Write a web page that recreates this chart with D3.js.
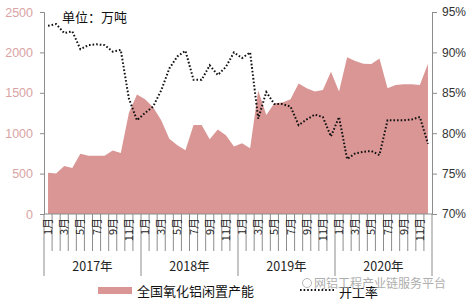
<!DOCTYPE html>
<html>
<head>
<meta charset="utf-8">
<script src="https://cdn.jsdelivr.net/npm/d3@7"></script>
<style>
  body { margin: 0; background: #fff; }
  svg { display: block; font-family: "Liberation Sans", Arial, "Noto Sans CJK SC", sans-serif; }
  .cjk { font-family: "Noto Sans CJK SC", sans-serif; }
</style>
</head>
<body>
<svg id="chart" width="468" height="305"></svg>
<script>
const years = ["2017年", "2018年", "2019年", "2020年"];
const monthLabels = ["1月", "", "3月", "", "5月", "", "7月", "", "9月", "", "11月", ""];
// 全国氧化铝闲置产能（万吨）
const idleCapacity = [
  510, 500, 595, 570, 745, 720, 720, 720, 785, 755, 1250, 1480,
  1420, 1320, 1160, 930, 850, 790, 1100, 1100, 925, 1045, 975, 835,
  875, 815, 1530, 1225, 1370, 1380, 1420, 1615, 1555, 1515, 1535, 1760,
  1515, 1940, 1895, 1860, 1855, 1925, 1555, 1595, 1605, 1605, 1595, 1860
];
// 开工率（%）
const operatingRate = [
  93.3, 93.5, 92.4, 92.6, 90.4, 90.9, 91.0, 90.9, 90.1, 90.3, 84.3, 81.6,
  82.5, 83.3, 85.3, 88.0, 89.5, 90.2, 86.6, 86.6, 88.4, 87.2, 88.2, 90.0,
  89.3, 90.0, 81.8, 85.1, 83.6, 83.6, 83.3, 81.0, 81.7, 82.3, 82.0, 79.6,
  82.0, 76.8, 77.5, 77.7, 77.8, 77.3, 81.6, 81.6, 81.6, 81.7, 82.0, 78.7
];
const leftTicks = [0, 500, 1000, 1500, 2000, 2500];
const rightTicks = [70, 75, 80, 85, 90, 95];

const svg = d3.select("#chart");
const plotL = 44, plotR = 432, plotT = 12, plotB = 214;
const pink = "#D99694";
const axisGrey = "#8c8c8c";

const months = d3.range(idleCapacity.length);
const x = d3.scaleBand().domain(months).range([plotL, plotR]);
const yL = d3.scaleLinear().domain([0, 2500]).range([plotB, plotT]);
const yR = d3.scaleLinear().domain([70, 95]).range([plotB, plotT]);
const cx = i => x(i) + x.bandwidth() / 2;

// area
svg.append("path")
  .datum(idleCapacity)
  .attr("fill", pink)
  .attr("d", d3.area().x((d, i) => cx(i)).y0(plotB).y1(d => yL(d)));

// dotted line
svg.append("path")
  .datum(operatingRate)
  .attr("fill", "none")
  .attr("stroke", "#111")
  .attr("stroke-width", 2)
  .attr("stroke-dasharray", "1.6,2")
  .attr("d", d3.line().x((d, i) => cx(i)).y(d => yR(d)));

// left axis
const gL = svg.append("g").attr("transform", `translate(${plotL},0)`)
  .call(d3.axisLeft(yL).tickValues(leftTicks).tickSize(4).tickPadding(7)
    .tickFormat(d3.format("d")));
gL.select(".domain").attr("stroke", axisGrey);
gL.selectAll(".tick line").attr("stroke", axisGrey);
gL.selectAll(".tick text").attr("fill", "#d9a3a3").attr("font-size", 12.5)
  .attr("font-family", "Liberation Sans, Arial, sans-serif");

// right axis
const gR = svg.append("g").attr("transform", `translate(${plotR},0)`)
  .call(d3.axisRight(yR).tickValues(rightTicks).tickSize(5).tickPadding(5)
    .tickFormat(d => d + "%"));
gR.select(".domain").attr("stroke", axisGrey);
gR.selectAll(".tick line").attr("stroke", axisGrey);
gR.selectAll(".tick text").attr("fill", "#333").attr("font-size", 12)
  .attr("font-family", "Liberation Sans Narrow, Liberation Sans, Arial, sans-serif");

// bottom axis line
svg.append("line").attr("x1", plotL).attr("x2", plotR).attr("y1", plotB).attr("y2", plotB)
  .attr("stroke", axisGrey);

// month separators
const gX = svg.append("g");
d3.range(idleCapacity.length + 1).forEach(i => {
  const xx = i < idleCapacity.length ? x(i) : plotR;
  const isYear = i % 12 === 0;
  gX.append("line")
    .attr("x1", xx).attr("x2", xx)
    .attr("y1", plotB).attr("y2", isYear ? 276 : 251)
    .attr("stroke", axisGrey);
});
months.forEach(i => {
  const lbl = monthLabels[i % 12];
  if (!lbl) return;
  gX.append("text")
    .attr("class", "cjk")
    .attr("transform", `translate(${cx(i) + 4},${plotB + 4}) rotate(-90)`)
    .attr("text-anchor", "end")
    .attr("font-size", 11)
    .attr("fill", "#222")
    .text(lbl);
});
years.forEach((yr, k) => {
  const x0 = x(k * 12), x1 = k === years.length - 1 ? plotR : x((k + 1) * 12);
  gX.append("text")
    .attr("class", "cjk")
    .attr("x", (x0 + x1) / 2).attr("y", 271)
    .attr("text-anchor", "middle")
    .attr("font-size", 12.5)
    .attr("fill", "#222")
    .text(yr);
});

// unit label
svg.append("text").attr("class", "cjk")
  .attr("x", 62).attr("y", 22).attr("font-size", 13).attr("fill", "#111")
  .text("单位：万吨");

// legend
svg.append("rect").attr("x", 98).attr("y", 287).attr("width", 34).attr("height", 7).attr("fill", pink);
svg.append("text").attr("class", "cjk")
  .attr("x", 137).attr("y", 296).attr("font-size", 13).attr("fill", "#111")
  .text("全国氧化铝闲置产能");
svg.append("line").attr("x1", 300).attr("x2", 335).attr("y1", 290).attr("y2", 290)
  .attr("stroke", "#111").attr("stroke-width", 2).attr("stroke-dasharray", "1.6,2");
svg.append("text").attr("class", "cjk")
  .attr("x", 339).attr("y", 297).attr("font-size", 13).attr("fill", "#111")
  .text("开工率");

// watermark
svg.append("circle").attr("cx", 307).attr("cy", 283).attr("r", 4.5)
  .attr("fill", "none").attr("stroke", "#b8b8b8").attr("stroke-width", 1);
svg.append("text").attr("class", "cjk")
  .attr("x", 314).attr("y", 288).attr("font-size", 12).attr("fill", "#9a9a9a")
  .attr("opacity", 0.8)
  .text("网铝工程产业链服务平台");
</script>
</body>
</html>
